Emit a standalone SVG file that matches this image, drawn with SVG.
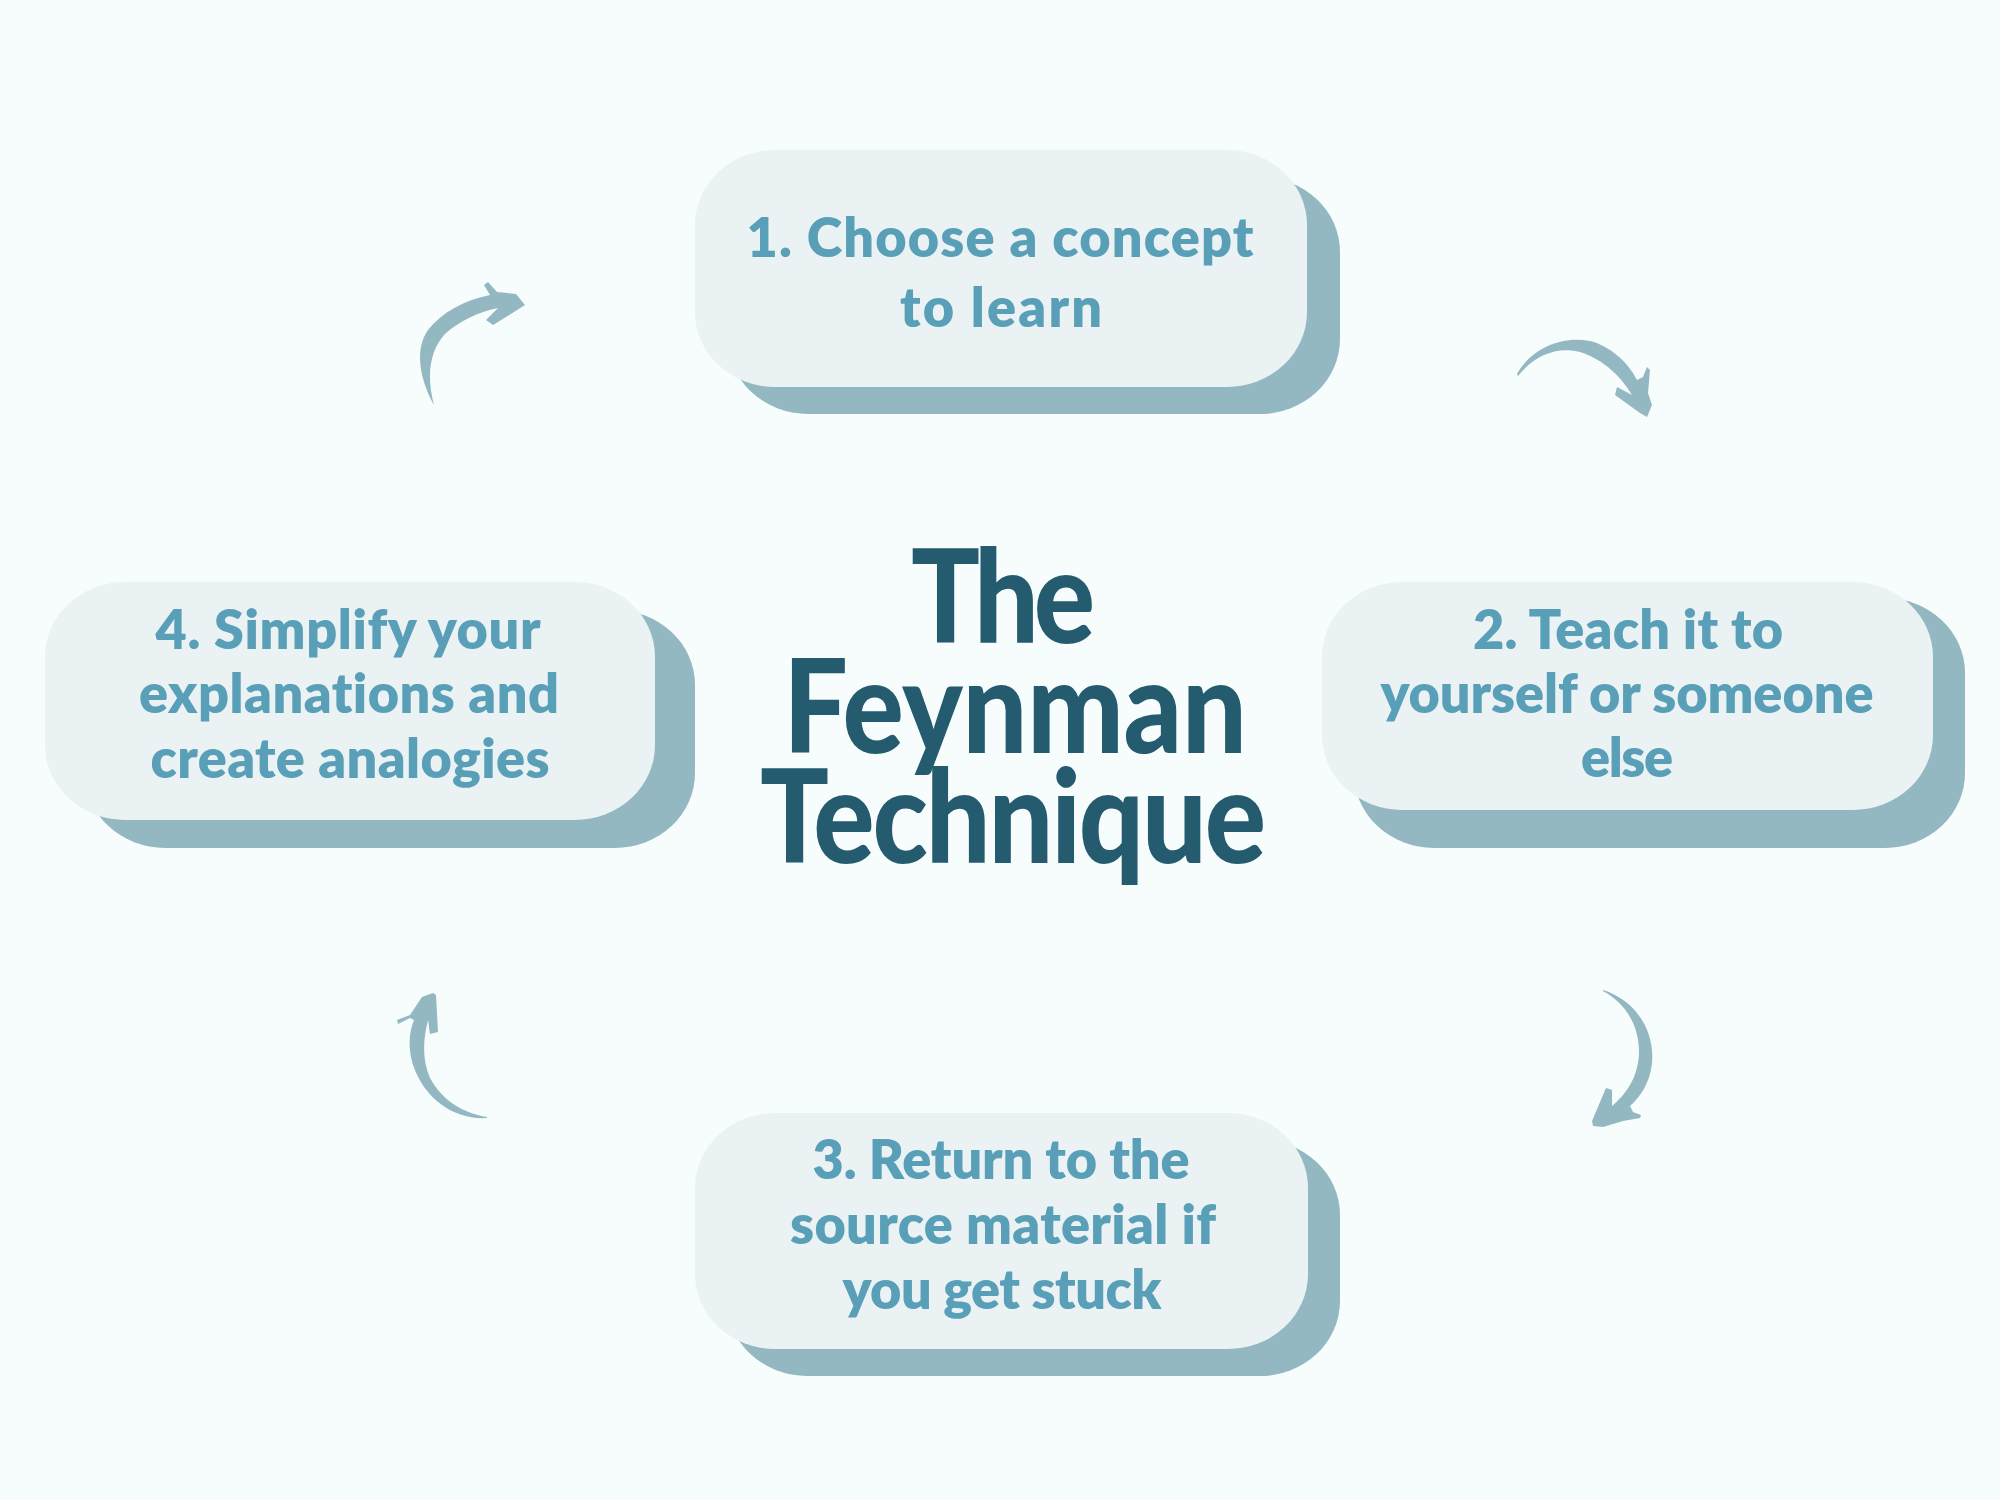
<svg xmlns="http://www.w3.org/2000/svg" width="2000" height="1500" viewBox="0 0 2000 1500">
<style>
.bg{fill:#f7fcfd}
.card{fill:#eaf2f4}
.shadow{fill:#93b8c1}
.arrow{fill:#93b8c1}
.lbl{font-family:Lato,"Liberation Sans",sans-serif;font-weight:800;font-size:54px;fill:#5a9fb8;text-anchor:middle;font-variant-ligatures:none}
.title{font-family:Lato,"Liberation Sans",sans-serif;font-weight:900;font-size:130px;fill:#245b6f;text-anchor:middle;font-variant-ligatures:none}
</style>
<rect class="bg" x="0" y="0" width="2000" height="1500"/>

<g id="connectors">
<path class="arrow" d="M434,405 C420,380 414,350 428,330 C442,312 465,300 490,295 L484,285 L488,282 L497,292 L516,294 L525,305 L493,325 L486,320 L498,308 C478,312 458,322 445,334 C430,350 426,375 434,405 Z"/>
<path class="arrow" d="M1517,374 C1530,350 1560,335 1590,341 C1610,346 1628,362 1637,380 L1643,377 L1647,367 L1650,370 L1648,393 L1652,405 L1647,417 L1640,413 L1615,395 L1617,387 L1632,395 C1622,378 1605,360 1580,352 C1555,346 1533,357 1518,376 Z"/>
<path class="arrow" d="M1603,990 C1635,1000 1655,1030 1652,1063 C1650,1083 1640,1097 1630,1106 L1633,1112 L1641,1115 L1640,1118 L1623,1121 L1603,1127 L1593,1126 L1592,1121 L1606,1088 L1612,1090 L1612,1106 C1625,1095 1637,1080 1639,1055 C1640,1025 1625,1003 1603,991 Z"/>
<path class="arrow" d="M487,1118 C455,1120 425,1100 413,1065 C407,1045 410,1030 414,1020 L410,1018 L398,1024 L397,1020 L410,1015 L422,997 L433,993 L436,995 L438,1032 L430,1034 L428,1020 C423,1040 422,1060 430,1078 C442,1100 462,1113 487,1117 Z"/>
</g>

<g id="node1">
<rect class="shadow" x="728" y="177" width="612" height="237" rx="80" ry="75"/>
<rect class="card" x="695" y="150" width="612" height="237" rx="80" ry="75"/>
<text class="lbl" x="1000" y="257" textLength="507" lengthAdjust="spacing">1. Choose a concept</text>
<text class="lbl" x="1001" y="327" textLength="202" lengthAdjust="spacing">to learn</text>
</g>

<g id="node2">
<rect class="shadow" x="1354" y="598" width="611" height="250" rx="80" ry="75"/>
<rect class="card" x="1322" y="582" width="611" height="228" rx="80" ry="75"/>
<text class="lbl" x="1628" y="649" textLength="310" lengthAdjust="spacing">2. Teach it to</text>
<text class="lbl" x="1627" y="713" textLength="493" lengthAdjust="spacing">yourself or someone</text>
<text class="lbl" x="1627" y="777" textLength="92" lengthAdjust="spacing">else</text>
</g>

<g id="node3">
<rect class="shadow" x="727" y="1140" width="613" height="236" rx="80" ry="75"/>
<rect class="card" x="695" y="1113" width="613" height="236" rx="80" ry="75"/>
<text class="lbl" x="1001" y="1179" textLength="377" lengthAdjust="spacing">3. Return to the</text>
<text class="lbl" x="1003" y="1244" textLength="426" lengthAdjust="spacing">source material if</text>
<text class="lbl" x="1002" y="1309" textLength="319" lengthAdjust="spacing">you get stuck</text>
</g>

<g id="node4">
<rect class="shadow" x="85" y="610" width="610" height="238" rx="80" ry="75"/>
<rect class="card" x="45" y="582" width="610" height="238" rx="80" ry="75"/>
<text class="lbl" x="348" y="649" textLength="385" lengthAdjust="spacing">4. Simplify your</text>
<text class="lbl" x="349" y="713" textLength="420" lengthAdjust="spacing">explanations and</text>
<text class="lbl" x="350" y="778" textLength="399" lengthAdjust="spacing">create analogies</text>
</g>

<g id="title">
<text class="title" transform="translate(1003,643) scale(0.88,1)" x="0" y="0" textLength="209" lengthAdjust="spacing">The</text>
<text class="title" transform="translate(1015,753) scale(0.88,1)" x="0" y="0" textLength="527" lengthAdjust="spacing">Feynman</text>
<text class="title" transform="translate(1013,863) scale(0.88,1)" x="0" y="0" textLength="575" lengthAdjust="spacing">Technique</text>
</g>
</svg>
